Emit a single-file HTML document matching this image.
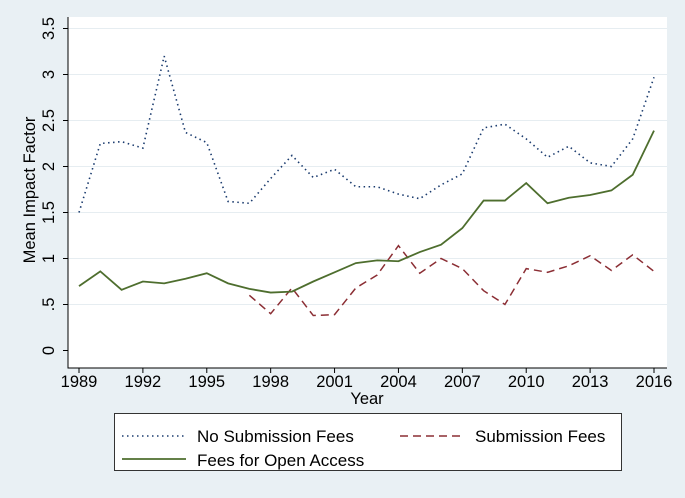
<!DOCTYPE html>
<html><head><meta charset="utf-8"><style>
html,body{margin:0;padding:0;background:#e9f0f4;}
svg{display:block;font-family:"Liberation Sans",sans-serif;}
</style></head><body>
<svg id="c" width="685" height="498">
<rect x="0" y="0" width="685" height="498" fill="#e9f0f4"/>
<rect x="68" y="17" width="599" height="351" fill="#ffffff"/>
<g id="grid"></g><g id="series"></g><g id="axes"></g>
<text x="35" y="190" font-size="16.5" text-anchor="middle" transform="rotate(-90 35 190)" fill="#000">Mean Impact Factor</text>
<text x="367" y="404" font-size="16.5" text-anchor="middle" fill="#000">Year</text>
<g>
<rect x="114.5" y="413.5" width="507" height="57" fill="#fff" stroke="#333" stroke-width="1"/>
<line x1="122" y1="436" x2="185" y2="436" stroke="#1a3b6e" stroke-width="1.5" stroke-dasharray="1.5,3.5"/>
<text x="197" y="442" font-size="17">No Submission Fees</text>
<line x1="400" y1="436" x2="464" y2="436" stroke="#8b2e34" stroke-width="1.5" stroke-dasharray="8,5"/>
<text x="475" y="442" font-size="17">Submission Fees</text>
<line x1="122" y1="459" x2="186" y2="459" stroke="#4e6e2e" stroke-width="1.8"/>
<text x="197" y="466" font-size="17">Fees for Open Access</text>
</g>
</svg>
<script>
const years=[1989,1990,1991,1992,1993,1994,1995,1996,1997,1998,1999,2000,2001,2002,2003,2004,2005,2006,2007,2008,2009,2010,2011,2012,2013,2014,2015,2016];
const noFees=[1.5,2.25,2.27,2.2,3.2,2.37,2.26,1.62,1.6,1.87,2.12,1.88,1.97,1.78,1.78,1.7,1.65,1.8,1.92,2.42,2.46,2.3,2.1,2.22,2.04,2.0,2.3,2.97];
const openAccess=[0.7,0.86,0.66,0.75,0.73,0.78,0.84,0.73,0.67,0.63,0.64,0.75,0.85,0.95,0.98,0.97,1.07,1.15,1.33,1.63,1.63,1.82,1.6,1.66,1.69,1.74,1.91,2.39];
const feeYears=[1997,1998,1999,2000,2001,2002,2003,2004,2005,2006,2007,2008,2009,2010,2011,2012,2013,2014,2015,2016];
const fees=[0.6,0.4,0.68,0.38,0.39,0.68,0.82,1.14,0.84,1.0,0.89,0.65,0.5,0.89,0.85,0.92,1.03,0.87,1.04,0.86];
const yTicks=[0,0.5,1,1.5,2,2.5,3,3.5];
const yTickLabels=["0",".5","1","1.5","2","2.5","3","3.5"];
const xTicks=[1989,1992,1995,1998,2001,2004,2007,2010,2013,2016];
const NS="http://www.w3.org/2000/svg";
function xs(y){return 79+(y-1989)*(654-79)/27;}
function ys(v){return 350.5-v*92;}
function mk(t,a,p){const e=document.createElementNS(NS,t);for(const k in a)e.setAttribute(k,a[k]);p.appendChild(e);return e;}
const grid=document.getElementById('grid'),axes=document.getElementById('axes'),ser=document.getElementById('series');
yTicks.forEach((v,i)=>{
 if(v>0){const g=mk('line',{x1:68,x2:667,y1:ys(v),y2:ys(v),stroke:'#e6edf1','stroke-width':1},grid);
 
 }
 const t=mk('line',{x1:63,x2:68,y1:ys(v),y2:ys(v),stroke:'#000'},axes);
 
 
 const l=mk('text',{x:0,y:0,'font-size':16.5,'text-anchor':'middle',transform:`translate(54 ${ys(v)}) rotate(-90)`},axes);
 l.textContent=yTickLabels[i];
 
 
});
xTicks.forEach(y=>{
 const t=mk('line',{x1:xs(y),x2:xs(y),y1:368,y2:373,stroke:'#000'},axes);
 
 
 const l=mk('text',{x:xs(y),y:387,'font-size':16.5,'text-anchor':'middle'},axes);
 l.textContent=y;
 
 
});
const ax=mk('path',{d:'M68 17 V368 H667',fill:'none',stroke:'#000','stroke-width':1},axes);


function line(xv,yv,st,name){const p=mk('polyline',Object.assign({points:xv.map((x,i)=>xs(x)+','+ys(yv[i])).join(' '),fill:'none'},st),ser);
 
 }
line(years,noFees,{stroke:'#1a3b6e','stroke-width':1.6,'stroke-dasharray':'1.5,3.5'},'series-no-submission-fees');
line(feeYears,fees,{stroke:'#8b2e34','stroke-width':1.5,'stroke-dasharray':'8,5'},'series-submission-fees');
line(years,openAccess,{stroke:'#4e6e2e','stroke-width':1.8},'series-fees-open-access');
</script>
</body></html>
